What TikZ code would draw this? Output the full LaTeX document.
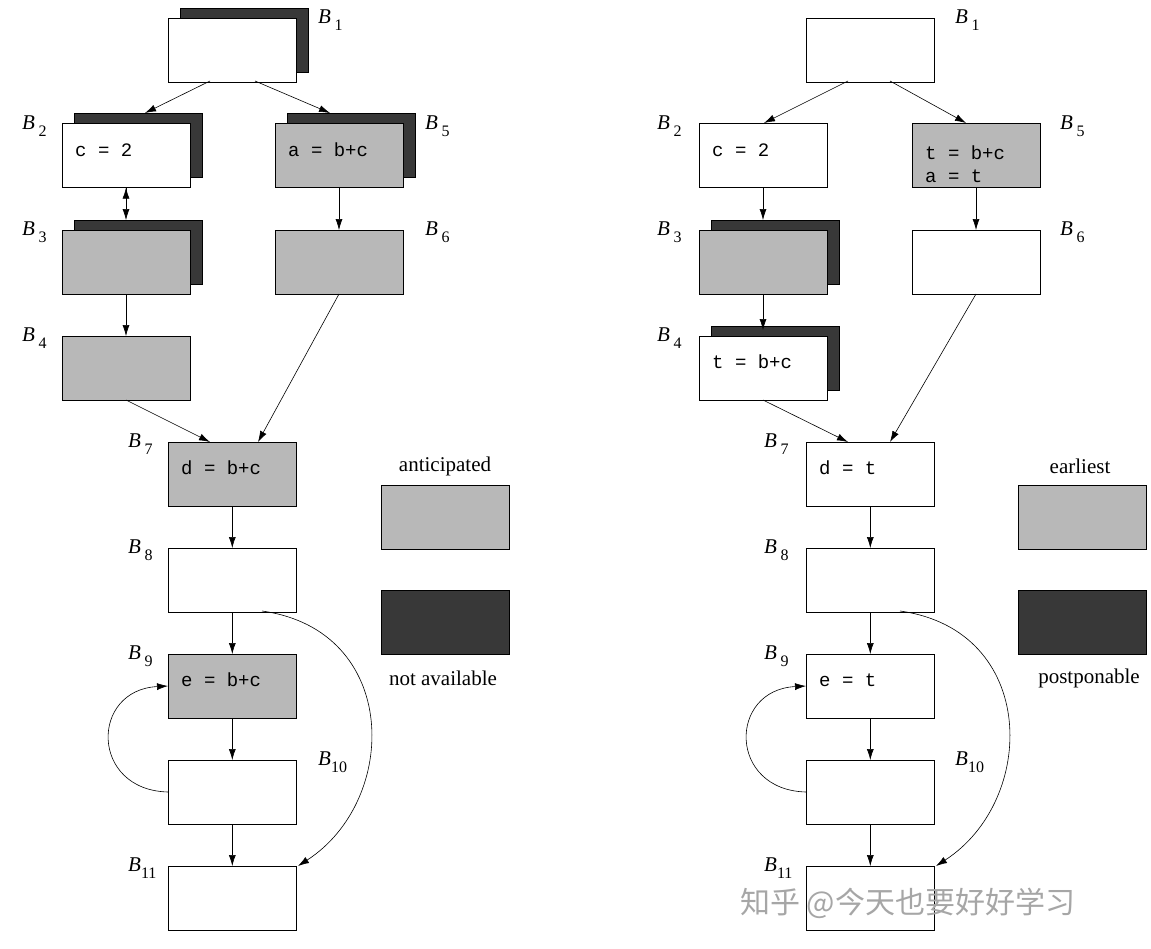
\documentclass[tikz,border=0pt]{standalone}
\usepackage{fontspec}
\setmainfont{Liberation Serif}
\newfontfamily\cjk{Noto Sans CJK SC}
\setmonofont{Liberation Mono}
\usetikzlibrary{arrows.meta}
\tikzset{
 x=1pt,y=-1pt,
 box/.style={draw,line width=0.6pt,minimum width=128pt,minimum height=64pt,inner sep=0pt,anchor=north west},
 g/.style={box,fill=black!28},
 w/.style={box,fill=white},
 dk/.style={box,fill=black!78},
 code/.style={anchor=west,font=\fontsize{19}{23}\selectfont\ttfamily,align=left,inner sep=0pt},
 bl/.style={anchor=north west,inner sep=0pt,font=\fontsize{21}{24}\selectfont},
 ar/.style={-{Latex[length=11pt,width=7pt]},line width=0.6pt},
 leg/.style={font=\fontsize{21}{24}\selectfont,inner sep=0pt}
}
\newcommand\bn[1]{\textit{B}\raisebox{-7pt}{\,\fontsize{16}{18}\selectfont #1}}
\newcommand\bnn[1]{\textit{B}\raisebox{-7pt}{\fontsize{16}{18}\selectfont #1}}
\begin{document}
\begin{tikzpicture}
\useasboundingbox (0,0) rectangle (1151,948);
% ---------- LEFT ----------
\node[dk] (s1) at (180,8) {};
\node[w] (L1) at (168,18) {};
\node[dk] (s2) at (74,113) {};
\node[w] (L2) at (62,123) {};
\node[dk] (s5) at (287,113) {};
\node[g] (L5) at (275,123) {};
\node[dk] (s3) at (74,220) {};
\node[g] (L3) at (62,230) {};
\node[g] (L6) at (275,230) {};
\node[g] (L4) at (62,336) {};
\node[g] (L7) at (168,442) {};
\node[w] (L8) at (168,548) {};
\node[g] (L9) at (168,654) {};
\node[w] (L10) at (168,760) {};
\node[w] (L11) at (168,866) {};
\node[code] (tL2) at (75,150) {c = 2};
\node[code] (tL5) at (288,150) {a = b+c};
\node[code] (tL7) at (181,468) {d = b+c};
\node[code] (tL9) at (181,680) {e = b+c};
\node[bl] (lL1) at (318,10) {\bn{1}};
\node[bl] (lL2) at (22,116) {\bn{2}};
\node[bl] (lL5) at (425,116) {\bn{5}};
\node[bl] (lL3) at (22,222) {\bn{3}};
\node[bl] (lL6) at (425,222) {\bn{6}};
\node[bl] (lL4) at (22,328) {\bn{4}};
\node[bl] (lL7) at (128,434) {\bn{7}};
\node[bl] (lL8) at (128,540) {\bn{8}};
\node[bl] (lL9) at (128,646) {\bn{9}};
\node[bl] (lL10) at (318,752) {\bnn{10}};
\node[bl] (lL11) at (128,858) {\bnn{11}};
\coordinate (a1) at (210,81); \coordinate (a2) at (145,113);
\coordinate (a3) at (255,81); \coordinate (a4) at (330,113);
\draw[ar] (a1) -- (a2);
\draw[ar] (a3) -- (a4);
\draw[ar] (L2.south west -| 126,0) ++(0,0) coordinate (c1) ;
\coordinate (b2s) at (126,187); \coordinate (b3n) at (126,220);
\draw[ar] (b2s) -- (b3n);
\coordinate (b5s) at (339,187); \coordinate (b6n) at (339,230);
\draw[ar] (b5s) -- (b6n);
\coordinate (b3s) at (126,294); \coordinate (b4n) at (126,336);
\draw[ar] (b3s) -- (b4n);
\coordinate (b4s) at (126,400); \coordinate (b7a) at (210,442);
\draw[ar] (b4s) -- (b7a);
\coordinate (b6s) at (339,294); \coordinate (b7b) at (258,442);
\draw[ar] (b6s) -- (b7b);
\draw[ar] (L7.south) -- (L8.north);
\draw[ar] (L8.south) -- (L9.north);
\draw[ar] (L9.south) -- (L10.north);
\draw[ar] (L10.south) -- (L11.north);
\coordinate (c8) at (262,611); \coordinate (c11) at (298,866);
\draw[ar] (c8) .. controls (400,630) and (400,800) .. (c11);
\coordinate (c10) at (168,792); \coordinate (c9) at (168,686);
\draw[ar] (c10) .. controls (90,790) and (90,690) .. (c9);
\node[g] (lg1) at (381,485) {};
\node[dk] (lg2) at (381,590) {};
\node[leg] (tg1) at (445,466) {anticipated};
\node[leg] (tg2) at (443,678) {not available};
% ---------- RIGHT ----------
\node[w] (R1) at (806,18) {};
\node[w] (R2) at (699,123) {};
\node[g] (R5) at (912,123) {};
\node[dk] (r3) at (711,220) {};
\node[g] (R3) at (699,230) {};
\node[w] (R6) at (912,230) {};
\node[dk] (r4) at (711,326) {};
\node[w] (R4) at (699,336) {};
\node[w] (R7) at (806,442) {};
\node[w] (R8) at (806,548) {};
\node[w] (R9) at (806,654) {};
\node[w] (R10) at (806,760) {};
\node[w] (R11) at (806,866) {};
\node[code] (tR2) at (712,150) {c = 2};
\node[code] (tR5) at (925,164) {t = b+c\\a = t};
\node[code] (tR4) at (712,362) {t = b+c};
\node[code] (tR7) at (819,468) {d = t};
\node[code] (tR9) at (819,680) {e = t};
\node[bl] (lR1) at (955,10) {\bn{1}};
\node[bl] (lR2) at (657,116) {\bn{2}};
\node[bl] (lR5) at (1060,116) {\bn{5}};
\node[bl] (lR3) at (657,222) {\bn{3}};
\node[bl] (lR6) at (1060,222) {\bn{6}};
\node[bl] (lR4) at (657,328) {\bn{4}};
\node[bl] (lR7) at (764,434) {\bn{7}};
\node[bl] (lR8) at (764,540) {\bn{8}};
\node[bl] (lR9) at (764,646) {\bn{9}};
\node[bl] (lR10) at (955,752) {\bnn{10}};
\node[bl] (lR11) at (764,858) {\bnn{11}};
\coordinate (d1) at (848,81); \coordinate (d2) at (764,123);
\coordinate (d3) at (890,81); \coordinate (d4) at (966,123);
\draw[ar] (d1) -- (d2);
\draw[ar] (d3) -- (d4);
\coordinate (e2s) at (763,187); \coordinate (e3n) at (763,220);
\draw[ar] (e2s) -- (e3n);
\coordinate (e5s) at (976,187); \coordinate (e6n) at (976,230);
\draw[ar] (e5s) -- (e6n);
\coordinate (e3s) at (763,294); \coordinate (e4n) at (763,330);
\draw[ar] (e3s) -- (e4n);
\coordinate (e4s) at (763,400); \coordinate (e7a) at (848,442);
\draw[ar] (e4s) -- (e7a);
\coordinate (e6s) at (976,294); \coordinate (e7b) at (890,442);
\draw[ar] (e6s) -- (e7b);
\draw[ar] (R7.south) -- (R8.north);
\draw[ar] (R8.south) -- (R9.north);
\draw[ar] (R9.south) -- (R10.north);
\draw[ar] (R10.south) -- (R11.north);
\coordinate (f8) at (900,611); \coordinate (f11) at (936,866);
\draw[ar] (f8) .. controls (1038,630) and (1038,800) .. (f11);
\coordinate (f10) at (806,792); \coordinate (f9) at (806,686);
\draw[ar] (f10) .. controls (728,790) and (728,690) .. (f9);
\node[g] (rg1) at (1018,485) {};
\node[dk] (rg2) at (1018,590) {};
\node[leg] (ug1) at (1080,466) {earliest};
\node[leg] (ug2) at (1089,678) {postponable};
\node[leg,anchor=west,text=black!35,font=\fontsize{30}{32}\selectfont\cjk] (wm) at (740,903) {知乎 @今天也要好好学习};
\end{tikzpicture}
\end{document}
